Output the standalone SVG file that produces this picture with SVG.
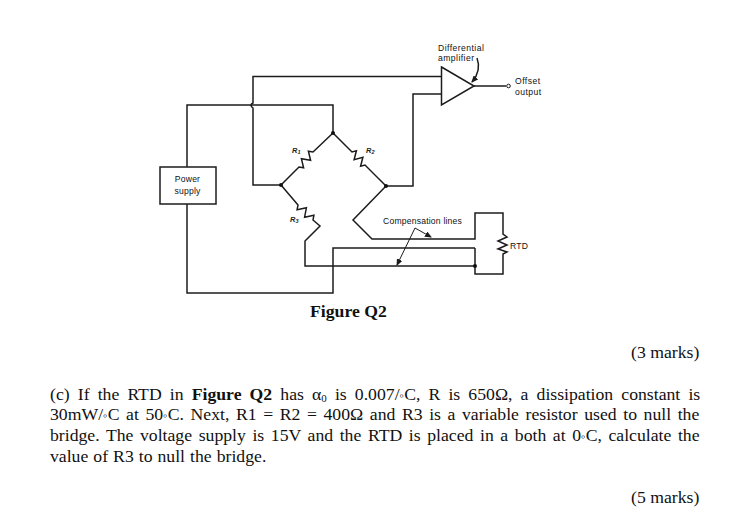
<svg xmlns="http://www.w3.org/2000/svg" width="748" height="513" viewBox="0 0 748 513">
<style>
.w{fill:none;stroke:#1c1c1c;stroke-width:1.5;stroke-linejoin:miter}
.t{font-family:"Liberation Sans",Arial,sans-serif;font-size:8.6px;fill:#111;letter-spacing:.2px}
.l{letter-spacing:.45px}
.r{font-family:"Liberation Sans",Arial,sans-serif;font-size:7.5px;font-style:italic;font-weight:bold;fill:#222}
.s{font-size:5.5px}
.b{font-family:"Liberation Serif","Times New Roman",serif;font-size:17.7px;fill:#111}
.o{font-size:13px}
.d{fill:#111}
</style>
<defs>
<marker id="a" markerWidth="7" markerHeight="6" refX="6" refY="3" orient="auto" markerUnits="userSpaceOnUse"><path d="M0 0L7 3L0 6z" fill="#1c1c1c"/></marker>
</defs>
<rect width="748" height="513" fill="#fff"/>
<g id="connectors">
<path class="w" d="M441.500 76.500H253V103Q249 105 253 108V185H281"/>
<path class="w" d="M187 167V105H333V133"/>
<path class="w" d="M187 204V293H333V248H475"/>
<path class="w" d="M333 133L313 152L308.400 151.200L310.600 160.300L301.400 158.700L303.600 167.800L299 167L281 185"/>
<path class="w" d="M333 133L352 152L356.400 150.800L354.100 159.700L362.900 157.300L360.600 166.200L365 165L386 186"/>
<path class="w" d="M281 185L298 205L297.100 209.700L306.400 207.800L304.600 217.200L313.900 215.300L313 220L320 226L305 241V266H475"/>
<path class="w" d="M386 186H413V94H441.500"/>
<path class="w" d="M386 186L353 220L372 239H475V213H503V234L507 237L498 241L507 245L498 249L507 252L503 254V274H475V248"/>
<path class="w" d="M474 86H506"/>
<path class="w" marker-end="url(#a)" d="M477 58C480 66 478 75 472 82"/>
<path class="w" style="stroke-width:1" marker-end="url(#a)" d="M415 228L431 237"/>
<path class="w" style="stroke-width:1" marker-end="url(#a)" d="M415 228L397 265"/>
<circle class="d" cx="333" cy="133" r="2"/>
<circle class="d" cx="281" cy="185" r="2"/>
<circle class="d" cx="386" cy="186" r="2"/>
<circle class="d" cx="475" cy="266" r="2"/>
</g>
<g id="amplifier">
<path class="w" d="M441.500 67L474 86L441.500 105Z"/>
<text class="t l" x="438" y="51">Differential</text>
<text class="t l" x="438" y="61">amplifier</text>
</g>
<g id="offset-output">
<circle cx="508.500" cy="86" r="1.800" fill="#fff" stroke="#1c1c1c"/>
<text class="t l" x="515" y="84">Offset</text>
<text class="t l" x="515" y="95">output</text>
</g>
<g id="power-supply">
<rect class="w" x="160" y="167" width="56" height="37"/>
<text class="t" x="187.500" y="182" text-anchor="middle">Power</text>
<text class="t" x="187.500" y="194" text-anchor="middle">supply</text>
</g>
<g id="r1"><text class="r" x="292" y="153">R<tspan class="s" dy="1">1</tspan></text></g>
<g id="r2"><text class="r" x="366" y="153">R<tspan class="s" dy="1">2</tspan></text></g>
<g id="r3"><text class="r" x="290" y="222">R<tspan class="s" dy="1">3</tspan></text></g>
<g id="compensation-lines"><text class="t" x="383" y="224">Compensation lines</text></g>
<g id="rtd"><text class="t" x="510" y="249">RTD</text></g>
<text class="b" x="310" y="317" font-weight="bold">Figure Q2</text>
<text class="b" x="631" y="358">(3 marks)</text>
<text class="b" x="50" y="400" word-spacing="3.7">(c) If the RTD in <tspan font-weight="bold">Figure Q2</tspan> has α<tspan font-size="11" dy="2">0</tspan><tspan dy="-2"> is 0.007/</tspan><tspan class="o">◦</tspan>C, R is 650Ω, a dissipation constant is</text>
<text class="b" x="50" y="420" word-spacing="2.17">30mW/<tspan class="o">◦</tspan>C at 50<tspan class="o">◦</tspan>C. Next, R1 = R2 = 400Ω and R3 is a variable resistor used to null the</text>
<text class="b" x="50" y="441" word-spacing="2.18">bridge. The voltage supply is 15V and the RTD is placed in a both at 0<tspan class="o">◦</tspan>C, calculate the</text>
<text class="b" x="50" y="461.500" word-spacing=".6">value of R3 to null the bridge.</text>
<text class="b" x="631" y="503">(5 marks)</text>
</svg>
